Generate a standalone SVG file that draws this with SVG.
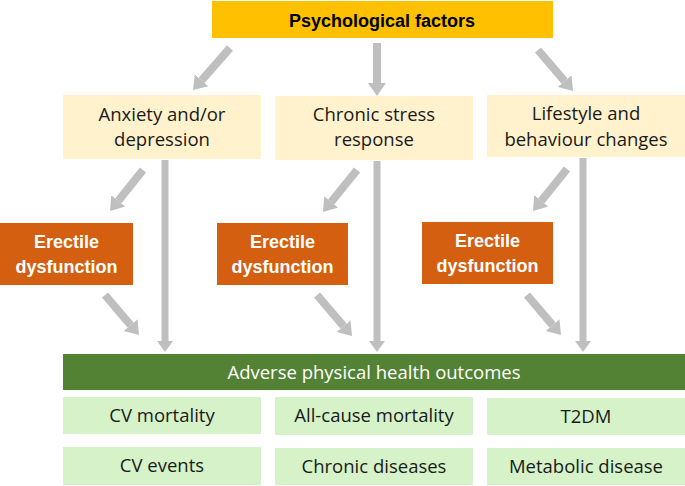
<svg xmlns="http://www.w3.org/2000/svg" width="685" height="486" viewBox="0 0 685 486">
<defs>
<marker id="ah" markerUnits="userSpaceOnUse" markerWidth="14" markerHeight="20" refX="0" refY="10" orient="auto" viewBox="0 0 14 20"><path d="M0,1 L13,10 L0,19 Z" fill="#BFBFBF"/></marker>
<marker id="ah2" markerUnits="userSpaceOnUse" markerWidth="12" markerHeight="18" refX="0" refY="9" orient="auto" viewBox="0 0 12 18"><path d="M0,1 L11,9 L0,17 Z" fill="#BFBFBF"/></marker>
</defs>
<style>
.top{fill:#FFC000}
.cream{fill:#FFF2CC}
.ed{fill:#D45F10}
.bar{fill:#548235}
.out{fill:#D5F2C8}
.t{font-family:"Open Sans","Liberation Sans",sans-serif;font-size:18.5px;fill:#1a1a1a;text-anchor:middle}
.tw{font-family:"Open Sans","Liberation Sans",sans-serif;font-size:18.5px;fill:#ffffff;text-anchor:middle}
.b{font-family:"Liberation Sans",Arial,sans-serif;font-size:18px;font-weight:bold;text-anchor:middle}
.c line{stroke:#BFBFBF;stroke-width:8}
.c .d{marker-end:url(#ah)}
.c .v{stroke-width:7;marker-end:url(#ah2)}
</style>
<g id="psych"><rect class="top" x="212" y="1" width="341" height="37"/><text class="b" x="382" y="27" fill="#000">Psychological factors</text></g>
<g id="anxiety"><rect class="cream" x="63" y="95" width="198" height="64"/><text class="t" x="162" y="121">Anxiety and/or</text><text class="t" x="162" y="146">depression</text></g>
<g id="stress"><rect class="cream" x="275" y="96" width="198" height="64"/><text class="t" x="374" y="121">Chronic stress</text><text class="t" x="374" y="146">response</text></g>
<g id="lifestyle"><rect class="cream" x="487" y="95" width="198" height="62"/><text class="t" x="586" y="120">Lifestyle and</text><text class="t" x="586" y="146">behaviour changes</text></g>
<g id="ed1"><rect class="ed" x="0" y="223" width="133" height="62"/><text class="b" x="66.5" y="248" fill="#fff">Erectile</text><text class="b" x="66.5" y="273" fill="#fff">dysfunction</text></g>
<g id="ed2"><rect class="ed" x="217" y="223" width="131" height="62"/><text class="b" x="282.5" y="248" fill="#fff">Erectile</text><text class="b" x="282.5" y="273" fill="#fff">dysfunction</text></g>
<g id="ed3"><rect class="ed" x="422" y="222" width="131" height="62"/><text class="b" x="487.5" y="247" fill="#fff">Erectile</text><text class="b" x="487.5" y="272" fill="#fff">dysfunction</text></g>
<g id="outcomes"><rect class="bar" x="63" y="354" width="622" height="36"/><text class="tw" x="374" y="379">Adverse physical health outcomes</text></g>
<g id="cvmort"><rect class="out" x="63" y="397" width="198" height="37"/><text class="t" x="162" y="422">CV mortality</text></g>
<g id="allcause"><rect class="out" x="275" y="397" width="198" height="38"/><text class="t" x="374" y="422">All-cause mortality</text></g>
<g id="t2dm"><rect class="out" x="487" y="398" width="198" height="37"/><text class="t" x="586" y="423">T2DM</text></g>
<g id="cvevents"><rect class="out" x="63" y="447" width="198" height="38"/><text class="t" x="162" y="472">CV events</text></g>
<g id="chronic"><rect class="out" x="275" y="448" width="198" height="37"/><text class="t" x="374" y="473">Chronic diseases</text></g>
<g id="metabolic"><rect class="out" x="487" y="448" width="198" height="37"/><text class="t" x="586" y="473">Metabolic disease</text></g>
<g id="connectors" class="c">
<line class="d" x1="230" y1="48" x2="201.6" y2="80.3"/>
<line class="d" x1="377" y1="43" x2="377" y2="83"/>
<line class="d" x1="538" y1="50" x2="564.6" y2="81.1"/>
<line class="d" x1="143" y1="170" x2="118.2" y2="200.9"/>
<line class="d" x1="357" y1="170" x2="331.2" y2="201.9"/>
<line class="d" x1="567" y1="169" x2="541.2" y2="200.9"/>
<line class="d" x1="105" y1="295" x2="130.6" y2="325.1"/>
<line class="d" x1="317" y1="295" x2="343.6" y2="326.1"/>
<line class="d" x1="527" y1="295" x2="552.6" y2="325.1"/>
<line class="v" x1="165" y1="160" x2="165" y2="341"/>
<line class="v" x1="377" y1="161" x2="377" y2="341"/>
<line class="v" x1="583" y1="158" x2="583" y2="341"/>
</g>
</svg>
